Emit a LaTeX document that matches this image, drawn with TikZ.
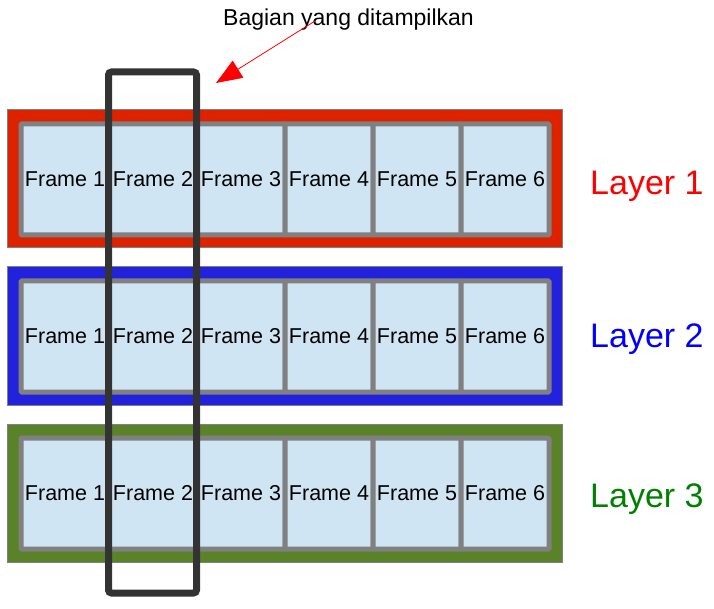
\documentclass[tikz,border=0pt]{standalone}
\usepackage{fontspec}
\setmainfont{Liberation Sans}
\usetikzlibrary{arrows.meta,calc}
\definecolor{layerred}{HTML}{DD2200}
\definecolor{layerblue}{HTML}{2222DD}
\definecolor{layergreen}{HTML}{5A8228}
\definecolor{framefill}{HTML}{CFE5F3}
\definecolor{boxdark}{HTML}{333333}
\tikzset{
  frame/.style={draw=gray, line width=5pt, fill=framefill, rounded corners=1pt,
    minimum width=88pt, minimum height=111pt, inner sep=0pt,
    font=\fontsize{21.5}{25}\selectfont},
  layerlabel/.style={anchor=base west, inner sep=0pt, font=\fontsize{34}{40}\selectfont}
}

\begin{document}
\begin{tikzpicture}[x=1pt, y=-1pt]
    \useasboundingbox (0,0) rectangle (714,609);
    % layers
    \draw [fill=layerred, draw=gray, line width=0.8pt] (7,109) rectangle (562,247);
    \draw [fill=layerblue, draw=gray, line width=0.8pt] (7,266) rectangle (562,405);
    \draw [fill=layergreen, draw=gray, line width=0.8pt] (7,424) rectangle (562,562);
    % frames
    \foreach \l/\y in {1/179.5, 2/336.5, 3/493.5} {
      \foreach \f in {1,...,6} {
        \node [frame] (f\l\f) at ({65+88*(\f-1)},\y) {Frame \f};
      }
    }
    \node [layerlabel, text=red] (layer1) at (590,195) {Layer 1};
    \node [layerlabel, text=blue] (layer2) at (590,347) {Layer 2};
    \node [layerlabel, text=green!50!black] (layer3) at (590,507) {Layer 3};
    % shown part
    \draw [boxdark, line width=7pt, rounded corners=3pt] (108.5,72) rectangle (196.5,593);
    \node [anchor=base west, inner sep=0pt, font=\fontsize{23}{27}\selectfont] (title) at (223,26) {Bagian yang ditampilkan};
    \coordinate (tip) at (216,83);
    \draw [red, line width=0.8pt, -{Triangle[length=26pt,width=20pt]}]
      ([xshift=92pt,yshift=5pt]title.base west) -- (tip);
\end{tikzpicture}
\end{document}
